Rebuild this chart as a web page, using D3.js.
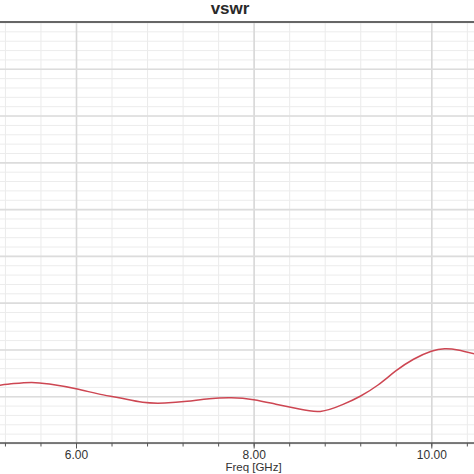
<!DOCTYPE html>
<html>
<head>
    <meta charset="utf-8" />
    <title>vswr</title>
    <script src="https://d3js.org/d3.v7.min.js"></script>
    <style>
    body {
        margin: 0;
        background: #fff;
    }
    svg {
        display: block;
        font-family: "Liberation Sans", Arial, sans-serif;
    }
    .grid path {
        display: none;
    }
    </style>
</head>
<body>
    <div id="chart"></div>
    <script>
        // values (VSWR vs frequency)
        var freqs = [5.1, 5.3, 5.5, 5.7, 6.0, 6.25, 6.5, 6.75, 7.0, 7.25, 7.5, 7.75, 8.0,
                     8.25, 8.5, 8.75, 9.0, 9.2, 9.4, 9.6, 9.8, 10.0, 10.15, 10.3, 10.5];
        var vswr  = [2.225, 2.27, 2.295, 2.26, 2.16, 2.05, 1.96, 1.87, 1.855, 1.89, 1.945, 1.965, 1.925,
                     1.83, 1.73, 1.675, 1.82, 2.0, 2.24, 2.54, 2.79, 2.96, 3.015, 2.99, 2.90];

        var xMajor = [6, 8, 10];
        var xTickLabels = ["6.00", "8.00", "10.00"];
        var xMinor = d3.range(12, 27).map(function(i) { return i * 0.4; });
        var yMajor = d3.range(1, 11);
        var yMinor = d3.range(5, 51).map(function(i) { return i * 0.2; });

        var width = 474, height = 474,
            plotTop = 22, plotBottom = 443;

        var svg = d3.select("#chart").append("svg")
            .attr("width", width)
            .attr("height", height);

        var x = d3.scaleLinear().domain([6, 10]).range([76, 431.3]);
        var y = d3.scaleLinear().domain([1, 10]).range([plotBottom, plotTop]);

        // minor grid
        svg.append("g")
            .attr("class", "grid")
            .attr("transform", "translate(0," + plotBottom + ")")
            .call(d3.axisBottom(x).tickValues(xMinor).tickSize(-(plotBottom - plotTop)).tickFormat(""))
            .selectAll("line").attr("stroke", "#ebebeb");
        svg.append("g")
            .attr("class", "grid")
            .call(d3.axisLeft(y).tickValues(yMinor).tickSize(-width).tickFormat(""))
            .selectAll("line").attr("stroke", "#ececec");

        // major grid
        svg.append("g")
            .attr("class", "grid")
            .attr("transform", "translate(0," + plotBottom + ")")
            .call(d3.axisBottom(x).tickValues(xMajor).tickSize(-(plotBottom - plotTop)).tickFormat(""))
            .selectAll("line").attr("stroke", "#d8d8d8").attr("stroke-width", 1.6);
        svg.append("g")
            .attr("class", "grid")
            .call(d3.axisLeft(y).tickValues(yMajor).tickSize(-width).tickFormat(""))
            .selectAll("line").attr("stroke", "#dcdcdc").attr("stroke-width", 1.6);

        // curve
        var line = d3.line()
            .x(function(d, i) { return x(freqs[i]); })
            .y(function(d) { return y(d); })
            .curve(d3.curveNatural);

        svg.append("path")
            .datum(vswr)
            .attr("fill", "none")
            .attr("stroke", "#cd4652")
            .attr("stroke-width", 1.5)
            .attr("d", line);

        // top border
        svg.append("line")
            .attr("x1", 0).attr("x2", width)
            .attr("y1", plotTop).attr("y2", plotTop)
            .attr("stroke", "#666").attr("stroke-width", 2);

        // bottom axis: minor ticks, then major ticks with labels
        var axMinor = svg.append("g")
            .attr("transform", "translate(0," + plotBottom + ")")
            .call(d3.axisBottom(x).tickValues(xMinor).tickSize(3.5).tickFormat(""));
        axMinor.select(".domain").remove();
        axMinor.selectAll("line").attr("stroke", "#555");

        var axMajor = svg.append("g")
            .attr("transform", "translate(0," + plotBottom + ")")
            .call(d3.axisBottom(x).tickValues(xMajor).tickSize(5.5)
                .tickFormat(function(d, i) { return xTickLabels[i]; }));
        axMajor.select(".domain").remove();
        axMajor.selectAll("line").attr("stroke", "#555");
        axMajor.selectAll("text")
            .attr("fill", "#333")
            .attr("font-size", "12px")
            .attr("font-family", "'Liberation Sans', Arial, sans-serif")
            .attr("dy", null)
            .attr("y", 15.5);

        svg.append("line")
            .attr("x1", 0).attr("x2", width)
            .attr("y1", plotBottom).attr("y2", plotBottom)
            .attr("stroke", "#555").attr("stroke-width", 1.5);

        // labels
        svg.append("text")
            .attr("x", 253.5).attr("y", 471)
            .attr("text-anchor", "middle")
            .attr("font-size", "11.5px")
            .attr("fill", "#333")
            .text("Freq [GHz]");

        svg.append("text")
            .attr("x", 230).attr("y", 14)
            .attr("text-anchor", "middle")
            .attr("font-size", "17px")
            .attr("font-weight", "bold")
            .attr("fill", "#2a2a2a")
            .text("vswr");
    </script>
</body>
</html>
